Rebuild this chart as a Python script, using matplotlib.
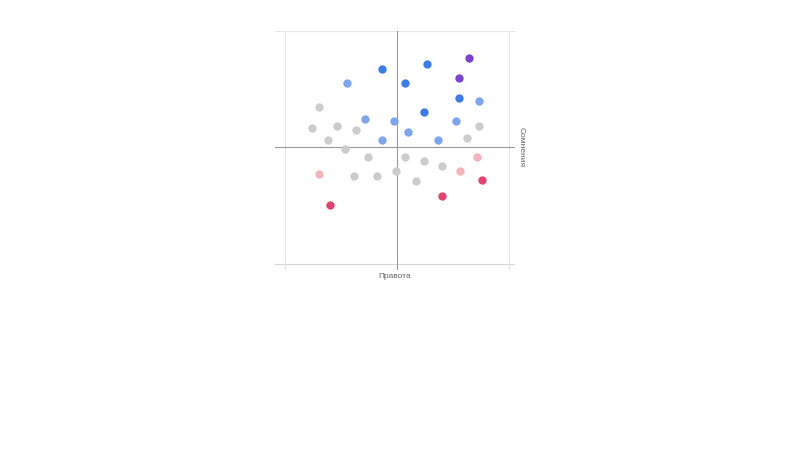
import matplotlib
matplotlib.use("Agg")
import matplotlib.pyplot as plt

# точки по группам: (правота, сомнения)
purple_x = [0.645, 0.558]
purple_y = [0.766, 0.599]
blue_x = [0.27, -0.129, 0.073, 0.558, 0.248]
blue_y = [0.719, 0.674, 0.554, 0.425, 0.307]
lightblue_x = [-0.439, 0.737, -0.284, -0.022, 0.531, 0.103, -0.129, 0.368]
lightblue_y = [0.554, 0.397, 0.247, 0.23, 0.225, 0.136, 0.064, 0.062]
gray_x = [-0.695, 0.734, -0.752, -0.529, -0.362, -0.612, 0.627, -0.46,
          -0.257, 0.076, 0.243, 0.409, -0.377, -0.171, -0.004, 0.174]
gray_y = [0.35, 0.185, 0.167, 0.185, 0.15, 0.062, 0.082, -0.013,
          -0.084, -0.084, -0.118, -0.161, -0.247, -0.247, -0.204, -0.285]
pink_x = [0.716, -0.695, 0.564]
pink_y = [-0.084, -0.227, -0.204]
red_x = [0.766, 0.406, -0.591]
red_y = [-0.279, -0.414, -0.494]

fig = plt.figure(figsize=(8, 4.5), dpi=100)
ax = fig.add_axes([275 / 800, 180 / 450, 240 / 800, 239 / 450])
ax.set_xlim(-1.085, 1.058)
ax.set_ylim(-1.052, 1.0)
for s in ax.spines.values():
    s.set_visible(False)
ax.set_xticks([])
ax.set_yticks([])

ax.axhline(1.0, color="#e6e6e6", lw=0.8, zorder=1)
ax.axhline(-1.0, color="#d6d6d6", lw=0.8, zorder=1)
ax.axvline(-1.0, color="#e6e6e6", lw=0.8, zorder=1)
ax.axvline(1.0, color="#e6e6e6", lw=0.8, zorder=1)
ax.axhline(0, color="#9a9a9a", lw=0.8, zorder=1)
ax.axvline(0, color="#9a9a9a", lw=0.8, zorder=1)

sz = 36
ax.scatter(gray_x, gray_y, s=sz, color="#cccccc", lw=0, zorder=3)
ax.scatter(pink_x, pink_y, s=sz, color="#f3b3bb", lw=0, zorder=3)
ax.scatter(red_x, red_y, s=sz, color="#e0436f", lw=0, zorder=3)
ax.scatter(lightblue_x, lightblue_y, s=sz, color="#7ea5ee", lw=0, zorder=3)
ax.scatter(blue_x, blue_y, s=sz, color="#3b7ce8", lw=0, zorder=3)
ax.scatter(purple_x, purple_y, s=sz, color="#7a43d0", lw=0, zorder=3)

fig.text(395 / 800, 1 - 277 / 450, "Правота", ha="center", va="center",
         fontsize=6, color="#666666", family="Liberation Sans")
fig.text(521 / 800, 1 - 147 / 450, "Сомнения", ha="center", va="center",
         rotation=270, fontsize=6, color="#666666", family="Liberation Sans")

fig.savefig("out.png", dpi=100)
